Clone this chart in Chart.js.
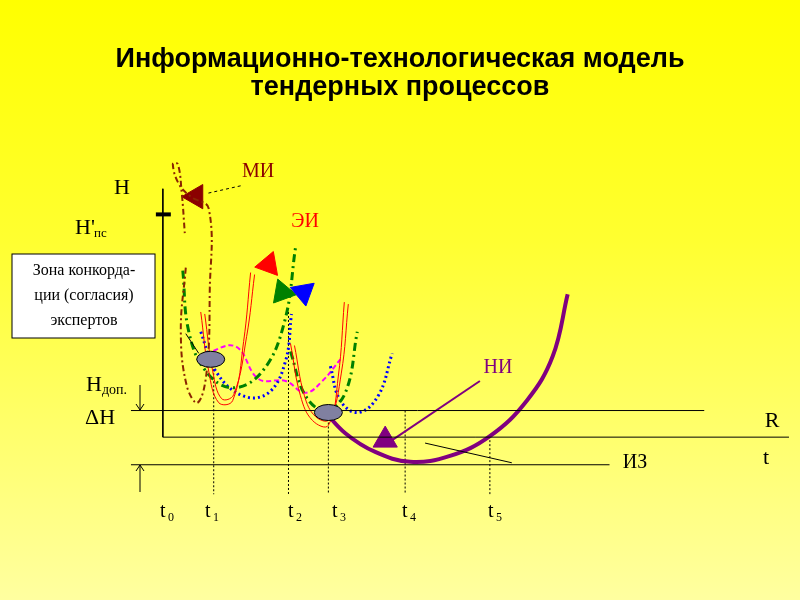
<!DOCTYPE html>
<html><head><meta charset="utf-8">
<script src="https://cdn.jsdelivr.net/npm/chart.js"></script>
<style>html,body{margin:0;padding:0}body{width:800px;height:600px;background:linear-gradient(#ffff00,#ffff30 40%,#ffffa0)}</style>
</head><body><canvas id="c" width="800" height="600"></canvas>
<script>
const curveNI=[{x:322,y:408},{x:345,y:433},{x:375,y:452},{x:410,y:462},{x:450,y:456},{x:490,y:436},{x:527,y:400},{x:553,y:355},{x:568,y:292}];
const curveMI=[{x:185,y:265},{x:180,y:330},{x:186,y:385},{x:197,y:402},{x:206,y:370},{x:209,y:290},{x:208,y:205},{x:190,y:193},{x:178,y:180},{x:172,y:160},{x:177,y:160},{x:181,y:190},{x:184,y:230}];
const curveEI1=[{x:200,y:310},{x:208,y:370},{x:218,y:402},{x:232,y:400},{x:243,y:340},{x:250,y:270}];
const curveEI1b=[{x:204,y:312},{x:212,y:370},{x:221,y:398},{x:233,y:394},{x:246,y:335},{x:254,y:272}];
const curveEI2=[{x:290,y:342},{x:300,y:395},{x:312,y:420},{x:328,y:425},{x:338,y:375},{x:344,y:300}];
const curveEI2b=[{x:294,y:344},{x:304,y:395},{x:315,y:416},{x:329,y:419},{x:341,y:372},{x:348,y:302}];
const curveEZ1=[{x:182,y:268},{x:188,y:330},{x:205,y:370},{x:232,y:387},{x:262,y:370},{x:284,y:320},{x:295,y:245}];
const curveEZ2=[{x:290,y:350},{x:305,y:395},{x:325,y:410},{x:345,y:392},{x:357,y:330}];
const curveB1=[{x:200,y:330},{x:215,y:370},{x:242,y:395},{x:268,y:392},{x:285,y:360},{x:291,y:312}];
const curveB2=[{x:330,y:365},{x:340,y:400},{x:358,y:412},{x:378,y:395},{x:392,y:352}];
const curveM=[{x:205,y:352},{x:235,y:345},{x:258,y:378},{x:285,y:380},{x:305,y:392},{x:322,y:380},{x:340,y:358}];
const tickX=[213,288,328,405,490];
const tickTop=[360,310,410,410,440];
const tLabels=['t0','t1','t2','t3','t4','t5'];
const tLabelX=[160,205,288,332,402,488];
const arrows=[{x:268,y:262,c:'#ff0000',r:20},{x:282,y:290,c:'#008000',r:100},{x:303,y:290,c:'#0000ff',r:170},{x:195,y:193,c:'#8b0000',r:-90},{x:385,y:440,c:'#800080',r:0}];
const ellipses=[{x:210,y:358},{x:328,y:412}];
function L(data,color,w,dash,t){return {type:'line',data,borderColor:color,borderWidth:w,borderDash:dash||[],pointRadius:0,tension:t===undefined?0.4:t,fill:false,clip:false};}
const ds=[
 L([{x:162,y:185},{x:162,y:437},{x:790,y:437}],'#000',1,[],0),
 L([{x:130,y:410},{x:705,y:410}],'#000',1,[],0),
 L([{x:130,y:465},{x:610,y:465}],'#000',1,[],0),
 L([{x:155,y:211},{x:170,y:211}],'#000',4,[],0),
 L([{x:512,y:463},{x:425,y:443}],'#000',1,[],0),
 L([{x:480,y:380},{x:392,y:440}],'#800080',2,[],0),
 L([{x:240,y:182},{x:205,y:190}],'#000',1,[3,3],0),
 L([{x:185,y:332},{x:198,y:352}],'#000',1,[],0),
 L(curveNI,'#800080',4),
 L(curveMI,'#8b2500',2,[6,3,2,3]),
 L(curveEI1,'#ff0000',1),L(curveEI1b,'#ff0000',1),L(curveEI2,'#ff0000',1),L(curveEI2b,'#ff0000',1),
 L(curveEZ1,'#008000',3,[8,4,2,4]),L(curveEZ2,'#008000',3,[8,4,2,4]),
 L(curveB1,'#0000ff',3,[2,3]),L(curveB2,'#0000ff',3,[2,3]),
 L(curveM,'#ff00ff',2,[5,3]),
];
tickX.forEach((x,i)=>ds.push(L([{x,y:tickTop[i]},{x,y:495}],'#000',1,[2,2],0)));
ds.push({type:'scatter',clip:false,data:arrows.map(a=>({x:a.x,y:a.y})),pointStyle:'triangle',pointRadius:14,pointRotation:arrows.map(a=>a.r),backgroundColor:arrows.map(a=>a.c),borderColor:arrows.map(a=>a.c)});
const texts=[
 ['Информационно-технологическая модель',400,60,'bold 27px "Liberation Sans"','#000'],
 ['тендерных процессов',400,88,'bold 27px "Liberation Sans"','#000'],
 ['МИ',258,172,'20px "Liberation Serif"','#8b0000'],['ЭИ',305,222,'20px "Liberation Serif"','#ff0000'],
 ['НИ',498,368,'20px "Liberation Serif"','#800080'],['Н',122,188,'22px "Liberation Serif"','#000'],
 ['R',772,421,'22px "Liberation Serif"','#000'],['t',766,458,'22px "Liberation Serif"','#000'],
 ['ИЗ',635,463,'20px "Liberation Serif"','#000'],['ΔH',100,418,'22px "Liberation Serif"','#000'],
];
const plug={id:'p',beforeDatasetsDraw(ch){const c=ch.ctx;c.save();
 c.fillStyle='#fff';c.strokeStyle='#000';c.lineWidth=1;c.fillRect(12,254,143,84);c.strokeRect(12,254,143,84);
 c.fillStyle='#000';c.font='16px "Liberation Serif"';c.textAlign='center';c.textBaseline='middle';
 ['Зона конкорда-','ции (согласия)','экспертов'].forEach((s,i)=>c.fillText(s,84,271+i*25));c.restore();},
 afterDatasetsDraw(ch){const c=ch.ctx,xs=ch.scales.x,ys=ch.scales.y;c.save();
 ellipses.forEach(e=>{c.beginPath();c.ellipse(xs.getPixelForValue(e.x),ys.getPixelForValue(e.y),14,8,0,0,Math.PI*2);c.fillStyle='#8080a0';c.fill();c.strokeStyle='#000';c.stroke();});
 c.textAlign='center';c.textBaseline='middle';
 texts.forEach(t=>{c.font=t[3];c.fillStyle=t[4];c.fillText(t[0],t[1],t[2]);});
 c.textAlign='left';c.fillStyle='#000';
 c.font='22px "Liberation Serif"';c.fillText("H'",75,228);c.font='13px "Liberation Serif"';c.fillText('пс',94,234);
 c.font='22px "Liberation Serif"';c.fillText('H',86,385);c.font='14px "Liberation Serif"';c.fillText('доп.',102,390);
 tLabels.forEach((s,i)=>{c.font='20px "Liberation Serif"';c.fillText('t',tLabelX[i],512);c.font='12px "Liberation Serif"';c.fillText(s.slice(1),tLabelX[i]+8,518);});
 c.strokeStyle='#000';c.beginPath();c.moveTo(140,385);c.lineTo(140,410);c.moveTo(140,465);c.lineTo(140,492);c.stroke();
 c.beginPath();c.moveTo(136,404);c.lineTo(140,410);c.lineTo(144,404);c.moveTo(136,471);c.lineTo(140,465);c.lineTo(144,471);c.stroke();
 c.restore();}};
new Chart(document.getElementById('c'),{type:'line',data:{datasets:ds},plugins:[plug],options:{responsive:false,animation:false,
 layout:{padding:0},plugins:{legend:{display:false},tooltip:{enabled:false}},
 scales:{x:{type:'linear',min:13.7,max:786,display:false},y:{type:'linear',min:8.7,max:587,reverse:true,display:false}}}});
</script></body></html>
